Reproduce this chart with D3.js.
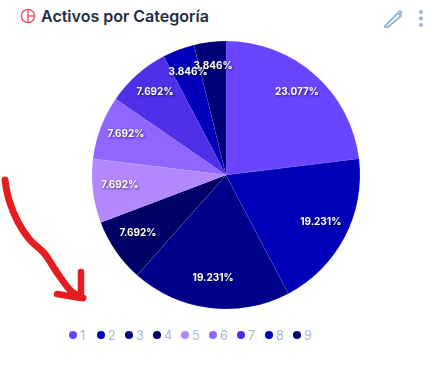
<!DOCTYPE html>
<html>
<head>
<meta charset="utf-8">
<script src="https://cdn.jsdelivr.net/npm/d3@7"></script>
<style>
  html, body { margin: 0; padding: 0; background: #fff; }
  svg { display: block; font-family: Inter, "Noto Sans", sans-serif; }
  .slice-label { fill: #fff; font-size: 10px; font-weight: 700; text-anchor: middle; dominant-baseline: central; filter: drop-shadow(1px 1px 1px rgba(0,0,0,.6)); }
  .legend-label { fill: #a9b9d3; font-size: 12.5px; dominant-baseline: central; }
</style>
</head>
<body>
<div id="chart"></div>
<script>
// data
var categories = ["1", "2", "3", "4", "5", "6", "7", "8", "9"];
var values = [6, 5, 5, 2, 2, 2, 2, 1, 1];
var percentLabels = ["23.077%", "19.231%", "19.231%", "7.692%", "7.692%", "7.692%", "7.692%", "3.846%", "3.846%"];
var colors = ["#6a45ff", "#0000b8", "#00008b", "#000066", "#b388ff", "#8f66ff", "#4f2fe8", "#0000b8", "#000078"];

// hand drawn red arrow on top of the screenshot
var arrowShaft = [[5, 180], [9, 200], [18, 222], [30, 240], [44, 253], [58, 274], [72, 292], [83, 298]];
var arrowHead = [[81, 272], [81, 298], [57, 294]];

var svg = d3.select("#chart").append("svg")
    .attr("width", 439)
    .attr("height", 366);

// header
var icon = svg.append("g")
    .attr("transform", "translate(28,16)")
    .attr("fill", "none")
    .attr("stroke", "#e8506a")
    .attr("stroke-width", 1.4);
icon.append("circle").attr("r", 6.6);
icon.append("path").attr("d", d3.line()([[0, -6.6], [0, 6.6]]));
icon.append("path").attr("d", d3.line()([[0, 0], [6.6, 0]]));

svg.append("text")
    .attr("x", 41)
    .attr("y", 22)
    .attr("fill", "#1f2d45")
    .attr("font-size", 16)
    .attr("font-weight", 600)
    .text("Activos por Categoría");

// pencil + dots
svg.append("path")
    .attr("transform", "translate(384,10)")
    .attr("fill", "none")
    .attr("stroke", "#9db6d3")
    .attr("stroke-width", 2)
    .attr("d", "M1 16 L14 3 L17 6 L4 17 L1 17 Z");
svg.append("path")
    .attr("transform", "translate(384,10)")
    .attr("fill", "#9db6d3")
    .attr("d", "M14 1 L17 0 L18.5 3 L17.5 5 Z");
svg.selectAll(".dot")
    .data([12, 18.5, 25])
    .enter().append("circle")
    .attr("class", "dot")
    .attr("cx", 421)
    .attr("cy", function(d) { return d; })
    .attr("r", 2.1)
    .attr("fill", "#9db6d3");

// pie
var pie = d3.pie().sort(null);
var arc = d3.arc().innerRadius(0).outerRadius(134);
var labelArc = d3.arc().innerRadius(107).outerRadius(107);

var g = svg.append("g")
    .attr("transform", "translate(226,175)");

var slices = pie(values);

g.selectAll(".slice")
    .data(slices)
    .enter().append("path")
    .attr("class", "slice")
    .attr("d", arc)
    .attr("fill", function(d, i) { return colors[i]; })
    .attr("stroke", "#fff")
    .attr("stroke-opacity", 0.15)
    .attr("stroke-width", 0.5);

// labels sit a bit above the arc centroid
g.selectAll(".slice-label")
    .data(slices)
    .enter().append("text")
    .attr("class", "slice-label")
    .attr("transform", function(d) { return "translate(" + labelArc.centroid(d) + ")"; })
    .attr("dy", -4)
    .text(function(d, i) { return percentLabels[i]; });

// legend
var legendX = d3.scalePoint()
    .domain(categories)
    .range([73, 297]);

var legend = svg.selectAll(".legend")
    .data(categories)
    .enter().append("g")
    .attr("class", "legend")
    .attr("transform", function(d) { return "translate(" + legendX(d) + ",335)"; });

legend.append("circle")
    .attr("r", 4)
    .attr("fill", function(d, i) { return colors[i]; });

legend.append("text")
    .attr("class", "legend-label")
    .attr("x", 7)
    .text(function(d) { return d; });

// red arrow
var line = d3.line().curve(d3.curveCatmullRom);
svg.append("path")
    .attr("d", line(arrowShaft))
    .attr("fill", "none")
    .attr("stroke", "#e41e20")
    .attr("stroke-width", 7)
    .attr("stroke-linecap", "round");
svg.append("path")
    .attr("d", d3.line()(arrowHead))
    .attr("fill", "none")
    .attr("stroke", "#e41e20")
    .attr("stroke-width", 6.5)
    .attr("stroke-linecap", "round")
    .attr("stroke-linejoin", "round");
</script>
</body>
</html>
